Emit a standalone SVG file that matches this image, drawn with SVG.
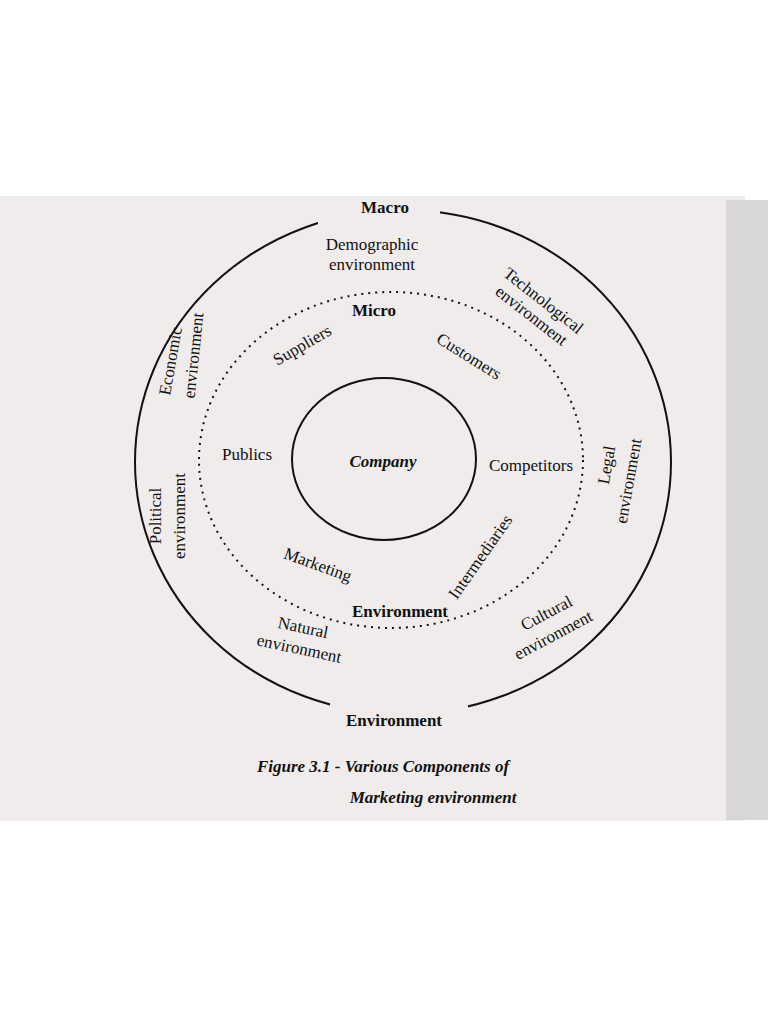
<svg xmlns="http://www.w3.org/2000/svg" width="768" height="1024" viewBox="0 0 768 1024">
<style>
text{font-family:"Liberation Serif",serif;font-size:17px;fill:#111}
.b{font-weight:bold}
.c{fill:none;stroke:#111;stroke-width:2}
.p{fill:#efeceb}
</style>
<rect width="768" height="1024" fill="#fff"/>
<rect x="0" y="196" width="745" height="625" fill="#efeceb"/>
<rect x="726" y="200" width="42" height="620" fill="#d9d6d6"/>
<g id="outer">
<ellipse cx="403" cy="462" rx="268" ry="252" class="c"/>
<rect class="p" x="318" y="200" width="122" height="26"/>
<rect class="p" x="330" y="700" width="138" height="24"/>
</g>
<g id="micro-ring"><ellipse cx="391" cy="460" rx="192" ry="168" fill="none" stroke="#111" stroke-width="2" stroke-dasharray="2,5"/></g>
<g id="company"><ellipse cx="384" cy="459" rx="92" ry="81" class="c"/>
<text x="383" y="467" text-anchor="middle" class="b" font-style="italic">Company</text></g>
<text x="385" y="213" text-anchor="middle" class="b" font-size="16">Macro</text>
<text x="372" y="250" text-anchor="middle">Demographic</text>
<text x="372" y="270" text-anchor="middle">environment</text>
<text transform="translate(540,305) rotate(38)" text-anchor="middle">Technological</text>
<text transform="translate(528,320) rotate(38)" text-anchor="middle">environment</text>
<text transform="translate(176,362) rotate(-80)" text-anchor="middle">Economic</text>
<text transform="translate(199,356) rotate(-84)" text-anchor="middle">environment</text>
<text transform="translate(161,516) rotate(-90)" text-anchor="middle">Political</text>
<text transform="translate(185,516) rotate(-90)" text-anchor="middle">environment</text>
<text transform="translate(612,466) rotate(-80)" text-anchor="middle">Legal</text>
<text transform="translate(634,482) rotate(-80)" text-anchor="middle">environment</text>
<text transform="translate(549,618) rotate(-28)" text-anchor="middle">Cultural</text>
<text transform="translate(556,640) rotate(-28)" text-anchor="middle">environment</text>
<text transform="translate(302,633) rotate(12)" text-anchor="middle">Natural</text>
<text transform="translate(298,654) rotate(12)" text-anchor="middle">environment</text>
<text x="394" y="726" text-anchor="middle" class="b">Environment</text>
<text x="374" y="316" text-anchor="middle" class="b">Micro</text>
<text transform="translate(305,350) rotate(-30)" text-anchor="middle">Suppliers</text>
<text transform="translate(466,361) rotate(32)" text-anchor="middle">Customers</text>
<text x="247" y="460" text-anchor="middle">Publics</text>
<text x="531" y="471" text-anchor="middle">Competitors</text>
<text transform="translate(316,570) rotate(20)" text-anchor="middle">Marketing</text>
<text transform="translate(485,560) rotate(-55)" text-anchor="middle">Intermediaries</text>
<text x="400" y="617" text-anchor="middle" class="b">Environment</text>
<text x="383" y="772" text-anchor="middle" class="b" font-style="italic" font-size="19">Figure 3.1 - Various Components of</text>
<text x="433" y="803" text-anchor="middle" class="b" font-style="italic" font-size="19">Marketing environment</text>
</svg>
